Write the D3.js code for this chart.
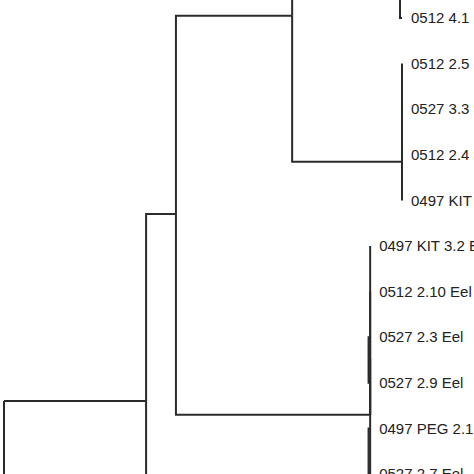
<!DOCTYPE html>
<html><head><meta charset="utf-8">
<script src="https://cdn.jsdelivr.net/npm/d3@7/dist/d3.min.js"></script>
<style>body{margin:0;background:#fff}svg{display:block}</style>
</head><body>
<script>
// node ids, parents, branch distance from root, vertical position (in leaf-index units)
const nodeIds   = ["R","A","B","C","F","E","D","D1","D2","A2","R2","l-3","l-2","l-1","l0","l1","l2","l3","l4","l5","l6","l7","l8","l9","l10","l11"];
const parents   = [null,"R","A","B","C","C","B","D","D","A","R","F","F","F","F","E","E","E","E","D","D","D1","D1","D2","D2","D2"];
const distances = [0,35.7,43.2,72.4,99.5,100,92,91.6,91.6,60,50,100,100,100,100,100,100,100,100,92,92,92,92,92,92,92];
const positions = [8.4,8.4,4.3,-0.05,-1.5,3.15,8.7,7.5,10,14,16,-3,-2,-1,0,1,2,3,4,5,6,7,8,9,10,11];
const labels    = {"l0":"0512 4.1 Eel","l1":"0512 2.5 Eel","l2":"0527 3.3 Eel","l3":"0512 2.4 Eel","l4":"0497 KIT 2.1 Eel",
                   "l5":"0497 KIT 3.2 Eel","l6":"0512 2.10 Eel","l7":"0527 2.3 Eel","l8":"0527 2.9 Eel","l9":"0497 PEG 2.1 Eel","l10":"0527 2.7 Eel","l11":"0527 2.8 Eel"};

const W=474,H=474;
const x=d3.scaleLinear().domain([0,100]).range([4,402]);
const y=d3.scaleLinear().domain([0,1]).range([18,63.6]);
const svg=d3.select("body").append("svg").attr("width",W).attr("height",H);
const table=nodeIds.map((id,i)=>({id,parent:parents[i],dist:distances[i],pos:positions[i]}));
const root=d3.stratify().id(d=>d.id).parentId(d=>d.parent)(table);
svg.append("g").attr("fill","none").attr("stroke","#2b2b2b").attr("stroke-width",2)
 .selectAll("path").data(root.links()).join("path")
 .attr("d",l=>`M${x(l.source.data.dist)},${y(l.source.data.pos)}V${y(l.target.data.pos)}H${x(l.target.data.dist)}`);
svg.append("g").selectAll("text").data(root.leaves().filter(d=>labels[d.id])).join("text")
 .attr("x",d=>x(d.data.dist)+9).attr("y",d=>y(d.data.pos)).attr("dy","0.35em")
 .attr("font-family","Liberation Sans, Arial, sans-serif").attr("font-size",15).attr("fill","#222")
 .text(d=>labels[d.id]);
</script>
</body></html>
